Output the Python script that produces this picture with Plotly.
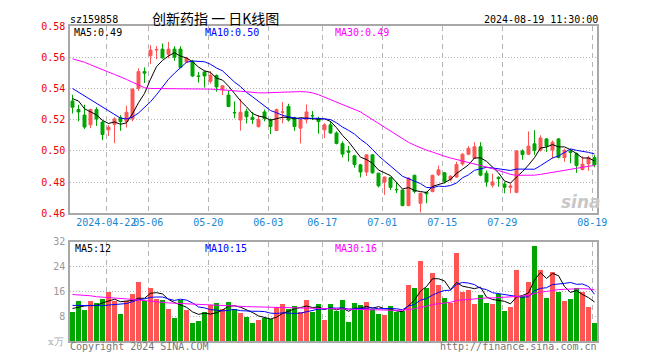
import plotly.graph_objects as go

dates = [
    "2024-04-12", "2024-04-15", "2024-04-16", "2024-04-17", "2024-04-18", "2024-04-19",
    "2024-04-22", "2024-04-23", "2024-04-24", "2024-04-25", "2024-04-26",
    "2024-04-29", "2024-04-30",
    "2024-05-06", "2024-05-07", "2024-05-08", "2024-05-09", "2024-05-10",
    "2024-05-13", "2024-05-14", "2024-05-15", "2024-05-16", "2024-05-17",
    "2024-05-20", "2024-05-21", "2024-05-22", "2024-05-23", "2024-05-24",
    "2024-05-27", "2024-05-28", "2024-05-29", "2024-05-30", "2024-05-31",
    "2024-06-03", "2024-06-04", "2024-06-05", "2024-06-06", "2024-06-07",
    "2024-06-11", "2024-06-12", "2024-06-13", "2024-06-14",
    "2024-06-17", "2024-06-18", "2024-06-19", "2024-06-20", "2024-06-21",
    "2024-06-24", "2024-06-25", "2024-06-26", "2024-06-27", "2024-06-28",
    "2024-07-01", "2024-07-02", "2024-07-03", "2024-07-04", "2024-07-05",
    "2024-07-08", "2024-07-09", "2024-07-10", "2024-07-11", "2024-07-12",
    "2024-07-15", "2024-07-16", "2024-07-17", "2024-07-18", "2024-07-19",
    "2024-07-22", "2024-07-23", "2024-07-24", "2024-07-25", "2024-07-26",
    "2024-07-29", "2024-07-30", "2024-07-31", "2024-08-01", "2024-08-02",
    "2024-08-05", "2024-08-06", "2024-08-07", "2024-08-08", "2024-08-09",
    "2024-08-12", "2024-08-13", "2024-08-14", "2024-08-15", "2024-08-16",
    "2024-08-19",
]

opens = [0.532, 0.5265, 0.523, 0.5167, 0.5265, 0.5185, 0.5135, 0.517, 0.5213, 0.5188,
         0.5205, 0.540, 0.5508, 0.561, 0.5646, 0.5652, 0.5619, 0.5652, 0.5652, 0.5569,
         0.5573, 0.548, 0.5506, 0.5446, 0.5483, 0.5392, 0.5358, 0.5246, 0.5198, 0.5254,
         0.5215, 0.5156, 0.525, 0.5198, 0.5131, 0.5248, 0.5285, 0.5213, 0.5146, 0.520,
         0.5227, 0.5208, 0.5135, 0.5167, 0.5115, 0.5047, 0.500, 0.4969, 0.4911, 0.4865,
         0.4975, 0.4858, 0.480, 0.4829, 0.4754, 0.475, 0.465, 0.4844, 0.4665, 0.4735,
         0.474, 0.4848, 0.486, 0.4817, 0.4833, 0.4917, 0.4979, 0.4952, 0.5027, 0.4858,
         0.4781, 0.4831, 0.4788, 0.4767, 0.4735, 0.500, 0.4979, 0.5046, 0.5006, 0.5077,
         0.5006, 0.5077, 0.4958, 0.500, 0.4983, 0.4881, 0.4917, 0.4958]
highs = [0.536, 0.5296, 0.5296, 0.527, 0.528, 0.5195, 0.5167, 0.5215, 0.5229, 0.529,
         0.540, 0.5529, 0.5535, 0.5677, 0.5671, 0.5688, 0.5698, 0.567, 0.567, 0.5602,
         0.5583, 0.5506, 0.551, 0.551, 0.549, 0.5421, 0.5385, 0.5317, 0.5333, 0.527,
         0.525, 0.523, 0.5265, 0.5208, 0.5271, 0.5313, 0.5302, 0.5219, 0.5208, 0.5298,
         0.5256, 0.5219, 0.5177, 0.5192, 0.5125, 0.5061, 0.5032, 0.4975, 0.4917, 0.4979,
         0.498, 0.486, 0.4835, 0.4833, 0.4802, 0.4752, 0.4831, 0.4848, 0.4733, 0.474,
         0.4848, 0.4906, 0.4865, 0.4844, 0.4931, 0.4985, 0.5031, 0.5056, 0.5056, 0.4875,
         0.4854, 0.4838, 0.4802, 0.4792, 0.5004, 0.501, 0.5125, 0.5133, 0.510, 0.5083,
         0.5067, 0.5083, 0.5015, 0.501, 0.499, 0.4965, 0.4969, 0.4973]
lows = [0.524, 0.519, 0.514, 0.5146, 0.516, 0.507, 0.5096, 0.505, 0.5129, 0.515,
        0.519, 0.5385, 0.5435, 0.5556, 0.5588, 0.559, 0.5594, 0.5577, 0.553, 0.5563,
        0.5473, 0.5438, 0.5406, 0.5431, 0.538, 0.5358, 0.528, 0.521, 0.513, 0.5177,
        0.5173, 0.515, 0.519, 0.5108, 0.5127, 0.5177, 0.5188, 0.5129, 0.5048, 0.5177,
        0.5198, 0.511, 0.5083, 0.511, 0.5042, 0.4959, 0.4932, 0.4893, 0.483, 0.484,
        0.4854, 0.4767, 0.4719, 0.475, 0.473, 0.4646, 0.4646, 0.4729, 0.4606, 0.4665,
        0.4735, 0.484, 0.4792, 0.4806, 0.4829, 0.4906, 0.4973, 0.4948, 0.4838, 0.4771,
        0.4765, 0.4771, 0.4729, 0.4729, 0.4729, 0.4944, 0.4975, 0.4975, 0.4996, 0.4994,
        0.4952, 0.4952, 0.4931, 0.4921, 0.486, 0.4875, 0.4873, 0.4896]
closes = [0.528, 0.525, 0.5153, 0.5265, 0.5205, 0.5105, 0.5152, 0.5205, 0.5188, 0.5248,
          0.5396, 0.5508, 0.5498, 0.5646, 0.565, 0.5596, 0.5652, 0.560, 0.5535, 0.5594,
          0.548, 0.5477, 0.548, 0.5485, 0.541, 0.5417, 0.5285, 0.5244, 0.5248, 0.5219,
          0.5202, 0.5202, 0.5208, 0.5156, 0.5265, 0.525, 0.5198, 0.5156, 0.5198, 0.525,
          0.5225, 0.5188, 0.5167, 0.5115, 0.5048, 0.498, 0.4992, 0.4913, 0.4865, 0.4975,
          0.486, 0.4777, 0.4833, 0.4767, 0.4752, 0.465, 0.4827, 0.474, 0.4729, 0.4725,
          0.4844, 0.4879, 0.4806, 0.4838, 0.4913, 0.4979, 0.5017, 0.5027, 0.4845, 0.4802,
          0.4802, 0.4823, 0.4767, 0.4775, 0.500, 0.4977, 0.5031, 0.5004, 0.5083, 0.5031,
          0.5056, 0.4958, 0.5004, 0.499, 0.4906, 0.4915, 0.4958, 0.4911]

ma5 = [0.5335, 0.532, 0.527, 0.525, 0.5231, 0.5196, 0.5176, 0.5186, 0.5171, 0.5180,
       0.5238, 0.5309, 0.5368, 0.5459, 0.5540, 0.5580, 0.5608, 0.5629, 0.5607, 0.5595,
       0.5572, 0.5537, 0.5513, 0.5503, 0.5466, 0.5454, 0.5415, 0.5368, 0.5321, 0.5283,
       0.5240, 0.5223, 0.5216, 0.5197, 0.5207, 0.5216, 0.5215, 0.5205, 0.5213, 0.5210,
       0.5205, 0.5203, 0.5206, 0.5189, 0.5149, 0.5100, 0.5060, 0.5010, 0.4960, 0.4945,
       0.4921, 0.4878, 0.4862, 0.4842, 0.4798, 0.4756, 0.4766, 0.4747, 0.4740, 0.4734,
       0.4773, 0.4783, 0.4797, 0.4818, 0.4856, 0.4883, 0.4911, 0.4955, 0.4956, 0.4934,
       0.4899, 0.4860, 0.4808, 0.4794, 0.4833, 0.4868, 0.4910, 0.4957, 0.5019, 0.5025,
       0.5041, 0.5026, 0.5026, 0.5008, 0.4983, 0.4955, 0.4955, 0.4936]
ma10 = [0.5400, 0.5376, 0.5352, 0.5328, 0.5304, 0.5280, 0.5256, 0.5232, 0.5210, 0.5205,
        0.5217, 0.5243, 0.5277, 0.5315, 0.5360, 0.5409, 0.5459, 0.5498, 0.5533, 0.5568,
        0.5576, 0.5573, 0.5571, 0.5555, 0.5531, 0.5513, 0.5476, 0.5441, 0.5412, 0.5375,
        0.5347, 0.5319, 0.5292, 0.5259, 0.5245, 0.5228, 0.5219, 0.5210, 0.5205, 0.5209,
        0.5211, 0.5209, 0.5205, 0.5201, 0.5180, 0.5153, 0.5132, 0.5108, 0.5074, 0.5047,
        0.5010, 0.4969, 0.4936, 0.4901, 0.4871, 0.4838, 0.4822, 0.4805, 0.4791, 0.4766,
        0.4764, 0.4775, 0.4772, 0.4779, 0.4795, 0.4828, 0.4847, 0.4876, 0.4887, 0.4895,
        0.4891, 0.4885, 0.4881, 0.4875, 0.4884, 0.4884, 0.4885, 0.4883, 0.4906, 0.4929,
        0.4955, 0.4968, 0.4992, 0.5013, 0.5004, 0.4998, 0.4991, 0.4981]
ma30 = [0.5590, 0.5580, 0.5568, 0.5552, 0.5535, 0.5520, 0.5505, 0.5490, 0.5476, 0.5458,
        0.5440, 0.5420, 0.5405, 0.5400, 0.5400, 0.5400, 0.5400, 0.5400, 0.5400, 0.5400,
        0.5400, 0.5400, 0.5398, 0.5396, 0.5394, 0.5392, 0.5390, 0.5386, 0.5382, 0.5379,
        0.5375, 0.5372, 0.5372, 0.5374, 0.5375, 0.5377, 0.5378, 0.5379, 0.5380, 0.5378,
        0.5372, 0.5360, 0.5345, 0.5330, 0.5315, 0.5298, 0.5283, 0.5268, 0.5250, 0.5225,
        0.5200, 0.5178, 0.5155, 0.5130, 0.5102, 0.5075, 0.5055, 0.5037, 0.5020, 0.5005,
        0.4993, 0.4978, 0.4966, 0.4955, 0.4945, 0.4936, 0.4928, 0.4920, 0.4910, 0.4900,
        0.4887, 0.4875, 0.4862, 0.4850, 0.4844, 0.4843, 0.4843, 0.4845, 0.4850, 0.4857,
        0.4864, 0.4871, 0.4878, 0.4884, 0.4890, 0.4896, 0.4902, 0.4907]

volumes = [9.4, 12.9, 10.0, 12.9, 12.2, 13.6, 15.8, 12.9, 8.8, 12.9,
           15.1, 19.2, 12.9, 17.1, 13.6, 13.2, 10.3, 7.6, 13.2, 10.0,
           5.9, 6.5, 9.4, 11.6, 12.2, 10.3, 12.6, 10.5, 9.1, 7.9,
           5.9, 6.9, 7.6, 7.2, 11.0, 11.9, 10.5, 11.3, 9.4, 13.2,
           9.4, 11.9, 6.9, 11.9, 9.7, 13.2, 6.2, 12.2, 11.6, 12.6,
           10.5, 8.8, 8.4, 11.3, 9.4, 9.7, 18.2, 17.3, 25.9, 17.0,
           22.0, 18.2, 13.8, 12.2, 28.4, 15.7, 16.4, 11.9, 14.8, 12.2,
           11.9, 15.2, 9.7, 11.0, 23.0, 14.5, 19.2, 30.6, 23.0, 13.8,
           22.4, 15.7, 12.9, 13.5, 17.0, 15.7, 11.0, 5.9]
vol_ma5 = [10.5, 11.0, 11.3, 11.5, 11.5, 12.3, 12.9, 13.5, 12.7, 12.8,
           13.1, 13.8, 13.8, 15.4, 15.6, 15.2, 13.4, 12.4, 11.6, 10.9,
           9.4, 8.6, 9.0, 8.7, 9.1, 10.0, 11.2, 11.4, 10.9, 10.1,
           9.2, 8.1, 7.5, 7.1, 7.7, 8.9, 9.6, 10.4, 10.8, 11.3,
           10.8, 11.0, 10.2, 10.7, 10.0, 10.7, 9.6, 10.6, 10.6, 11.2,
           10.6, 11.1, 10.4, 10.3, 9.7, 9.5, 11.4, 13.2, 16.1, 17.6,
           20.1, 20.1, 19.4, 16.6, 18.9, 17.7, 17.3, 16.9, 17.4, 14.2,
           13.4, 13.2, 12.8, 12.0, 14.2, 14.7, 15.5, 19.7, 22.1, 20.2,
           21.8, 21.1, 17.6, 15.7, 16.3, 15.0, 14.0, 12.6]
vol_ma10 = [11.5, 11.5, 11.4, 11.3, 11.3, 11.4, 11.6, 11.8, 11.9, 12.1,
            12.7, 13.3, 13.6, 14.1, 14.2, 14.2, 13.6, 13.1, 13.5, 13.2,
            12.3, 11.0, 10.7, 10.1, 10.0, 9.7, 9.9, 10.2, 9.8, 9.6,
            9.6, 9.6, 9.5, 9.0, 8.9, 9.1, 8.9, 8.9, 9.0, 9.5,
            9.8, 10.3, 10.3, 10.7, 10.6, 10.7, 10.3, 10.4, 10.6, 10.6,
            10.7, 10.4, 10.5, 10.5, 10.4, 10.1, 11.3, 11.8, 13.2, 13.7,
            14.8, 15.7, 16.3, 16.4, 18.3, 18.9, 18.7, 18.2, 17.0, 16.6,
            15.6, 15.3, 14.8, 14.7, 14.2, 14.1, 14.3, 16.2, 17.0, 17.2,
            18.2, 18.3, 18.6, 18.9, 18.3, 18.4, 17.6, 15.1]
vol_ma30 = [15.0, 14.9, 14.8, 14.6, 14.3, 14.2, 14.1, 14.0, 13.8, 13.6,
            13.4, 13.2, 13.0, 12.7, 12.5, 12.4, 12.3, 12.2, 12.1, 12.0,
            11.8, 11.7, 11.6, 11.6, 11.5, 11.4, 11.35, 11.3, 11.2, 11.1,
            11.05, 11.0, 10.95, 10.9, 10.85, 10.8, 10.75, 10.7, 10.65, 10.55,
            10.5, 10.4, 10.3, 10.2, 10.15, 10.1, 10.1, 10.05, 10.0, 10.0,
            10.0, 9.95, 9.95, 9.9, 9.9, 9.95, 10.1, 10.4, 10.9, 11.2,
            11.8, 12.1, 12.3, 12.5, 13.1, 13.3, 13.5, 13.6, 13.8, 13.9,
            13.9, 14.0, 14.0, 14.1, 14.3, 14.5, 14.8, 15.4, 15.8, 16.0,
            16.4, 16.6, 16.7, 16.8, 16.9, 16.9, 16.8, 16.5]

tick_dates = ["2024-04-22", "2024-05-06", "2024-05-20", "2024-06-03", "2024-06-17",
              "2024-07-01", "2024-07-15", "2024-07-29", "2024-08-19"]
tick_labels = ["2024-04-22", "05-06", "05-20", "06-03", "06-17",
               "07-01", "07-15", "07-29", "08-19"]
price_ticks = [0.46, 0.48, 0.50, 0.52, 0.54, 0.56, 0.58]
vol_ticks = [8, 16, 24, 32]

UP = "#ff5555"
DOWN = "#00a600"
MONO = "DejaVu Sans Mono"
GRID = "#b4b4b4"
FRAME = "#a8a8a8"

x = list(range(len(dates)))
tickvals = [dates.index(d) - 0.37 for d in tick_dates]
bar_colors = [UP if c >= o else DOWN for o, c in zip(opens, closes)]

fig = go.Figure()
fig.add_trace(go.Candlestick(
    x=x, open=opens, high=highs, low=lows, close=closes,
    increasing=dict(line=dict(color=UP, width=1), fillcolor=UP),
    decreasing=dict(line=dict(color=DOWN, width=1), fillcolor=DOWN),
    whiskerwidth=0, hoverinfo="skip", xaxis="x", yaxis="y", showlegend=False))
for series, col in ((ma5, "#000000"), (ma10, "#0000ff"), (ma30, "#ff00ff")):
    fig.add_trace(go.Scatter(x=x, y=series, mode="lines", line=dict(color=col, width=1),
                             hoverinfo="skip", xaxis="x", yaxis="y", showlegend=False))

fig.add_trace(go.Bar(x=x, y=volumes, marker=dict(color=bar_colors, line=dict(width=0)),
                     width=0.82, hoverinfo="skip", xaxis="x2", yaxis="y2", showlegend=False))
for series, col in ((vol_ma5, "#000000"), (vol_ma10, "#0000ff"), (vol_ma30, "#ff00ff")):
    fig.add_trace(go.Scatter(x=x, y=series, mode="lines", line=dict(color=col, width=1),
                             hoverinfo="skip", xaxis="x2", yaxis="y2", showlegend=False))

# The page body has an 8px margin, so the figure sits at (8, 8) in the window.
OFF = 8
W, H = 652, 352
L, R, T, B = 62, 63, 12, 19
PW, PH = W - L - R, H - T - B


def px(xpage):
    return (xpage - OFF - L) / PW


def py(ypage):
    return (H - B - (ypage - OFF)) / PH


xaxis_common = dict(
    range=[-0.417, len(dates) - 1 + 0.417], tickvals=tickvals, ticktext=tick_labels,
    tickangle=0, showgrid=True, gridcolor=GRID, gridwidth=1, griddash="5px,4px",
    showline=True, mirror=True, linecolor=FRAME, linewidth=1.5, zeroline=False, ticks="",
)

fig.update_layout(
    width=W, height=H, margin=dict(l=L, r=R, t=T, b=B),
    paper_bgcolor="white", plot_bgcolor="white", hovermode=False, showlegend=False,
    bargap=0,
    xaxis=dict(**xaxis_common, anchor="y", domain=[0, 1], rangeslider=dict(visible=False),
               tickfont=dict(family=MONO, size=10, color="#1a86cf"), ticklabelstandoff=-1),
    xaxis2=dict(**xaxis_common, anchor="y2", domain=[0, 1], matches="x", showticklabels=False),
    yaxis=dict(domain=[py(211), 1], range=[0.46, 0.58], tickvals=price_ticks, tickformat=".2f",
               tickfont=dict(family=MONO, size=10, color="#ee0000"), showgrid=True,
               gridcolor=GRID, griddash="1px,2px", showline=True, mirror=True,
               linecolor=FRAME, linewidth=1.5, zeroline=False, ticks="", ticklabelstandoff=1),
    yaxis2=dict(domain=[0, py(240)], range=[0, 32], tickvals=vol_ticks,
                tickfont=dict(family=MONO, size=10, color="#999999"), showgrid=True,
                gridcolor=GRID, griddash="1px,2px", showline=True, mirror=True,
                linecolor=FRAME, linewidth=1.5, zeroline=False, ticks="", ticklabelstandoff=1),
)


def label(text, xpage, ypage, color="#000000", anchor="left", size=10, family=MONO):
    fig.add_annotation(text=text, x=px(xpage), y=py(ypage), xref="paper", yref="paper",
                       xanchor=anchor, yanchor="middle", showarrow=False,
                       font=dict(family=family, size=size, color=color), borderpad=0)


label("sz159858", 69, 13)
label("创新药指 一 日K线图", 215, 12, anchor="center", size=14, family="Noto Sans CJK SC")
label("2024-08-19 11:30:00", 599, 13, anchor="right")
label("MA5:0.49", 73, 27)
label("MA10:0.50", 204, 27, color="#0000ff")
label("MA30:0.49", 334, 27, color="#ff00ff")
label("MA5:12", 74, 247)
label("MA10:15", 204, 247, color="#0000ff")
label("MA30:16", 334, 247, color="#ff00ff")
label("x万", 65, 341, color="#aaaaaa", anchor="right", size=10, family="DejaVu Serif")
label("Copyright 2024 SINA.COM", 69, 347, color="#777777")
label("http://finance.sina.com.cn", 598, 347, color="#777777", anchor="right")
label("<b><i>sina</i></b>", 581, 199, color="#c8c8c8", anchor="center", size=17,
      family="DejaVu Sans")

fig.write_html("out.html")
